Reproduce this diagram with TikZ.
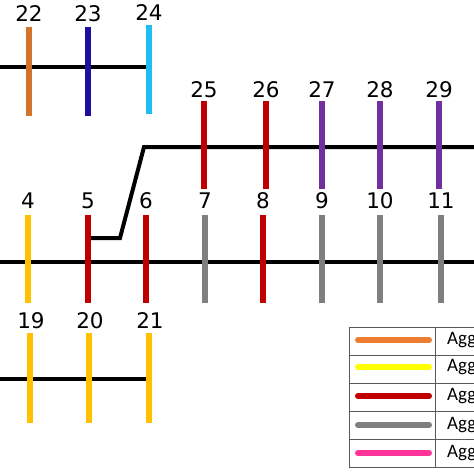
\documentclass[tikz,border=0pt]{standalone}
\usepackage{fontspec}
\setmainfont{DejaVu Sans}
\newfontfamily\legendfont{Carlito}
\usepackage{tikz}

\definecolor{aggorange}{HTML}{D2732C}
\definecolor{aggblue}{HTML}{1E0FA0}
\definecolor{agglight}{HTML}{1FBDF0}
\definecolor{aggyellow}{HTML}{FFC000}
\definecolor{aggred}{HTML}{C00000}
\definecolor{aggpurple}{HTML}{7030A0}
\definecolor{agggray}{HTML}{7F7F7F}
\definecolor{agglgorange}{HTML}{ED7D31}
\definecolor{agglgyellow}{HTML}{FFFF00}
\definecolor{agglgpink}{HTML}{FF3399}

\tikzset{
  feeder/.style={line width=4pt, black},
  busbar/.style={line width=6.5pt},
  busnum/.style={font=\fontsize{21.5}{21.5}\selectfont, inner sep=0pt},
  legline/.style={line width=6pt, line cap=round},
  legtext/.style={font=\legendfont\fontsize{19}{19}\selectfont, anchor=west, inner sep=0pt}
}

\begin{document}
\begin{tikzpicture}[x=1pt, y=-1pt]
\useasboundingbox (0,0) rectangle (474,474);
\clip (0,0) rectangle (474,474);

% feeders
\draw[feeder] (0,67) -- (146,67);
\draw[feeder] (0,262) -- (474,262);
\draw[feeder] (0,379) -- (146,379);
\draw[feeder] (474,147) -- (144,147) -- (120,238) -- (88,238);

% top branch 22-24
\draw[busbar, aggorange] (29,27) -- (29,116);
\node[busnum] (n22) at (29,14) {22};
\draw[busbar, aggblue] (88,27) -- (88,116);
\node[busnum] (n23) at (88,14) {23};
\draw[busbar, agglight] (149,25) -- (149,114);
\node[busnum] (n24) at (149,13) {24};

% upper branch 25-29
\foreach \x/\n/\c in {204/25/aggred, 266/26/aggred, 322/27/aggpurple, 380/28/aggpurple, 439/29/aggpurple}{
  \draw[busbar, \c] (\x,101) -- (\x,189);
  \node[busnum] (n\n) at (\x,90) {\n};
}

% main feeder 4-11
\foreach \x/\n/\c in {28/4/aggyellow, 88/5/aggred, 146/6/aggred, 205/7/agggray, 263/8/aggred, 322/9/agggray, 380/10/agggray, 441/11/agggray}{
  \draw[busbar, \c] (\x,215) -- (\x,303);
  \node[busnum] (n\n) at (\x,201) {\n};
}

% lower branch 19-21
\foreach \x/\n in {30/19, 89/20, 149/21}{
  \draw[busbar, aggyellow] (\x,333) -- (\x,423);
  \node[busnum] (n\n) at (\x+1,321) {\n};
}

% legend
\draw[gray!70!black, line width=0.8pt] (349,327) rectangle (480,467);
\draw[gray!70!black, line width=0.8pt] (435,327) -- (435,467);
\foreach \y in {355,383,411,439}{
  \draw[gray!70!black, line width=0.8pt] (349,\y) -- (480,\y);
}
\foreach \y/\c [count=\i] in {340/agglgorange, 367/agglgyellow, 396/aggred, 425/agggray, 453/agglgpink}{
  \draw[legline, \c] (358,\y) -- (429,\y);
  \node[legtext] (lg\i) at (447,\y) {Agg};
}
\end{tikzpicture}
\end{document}
